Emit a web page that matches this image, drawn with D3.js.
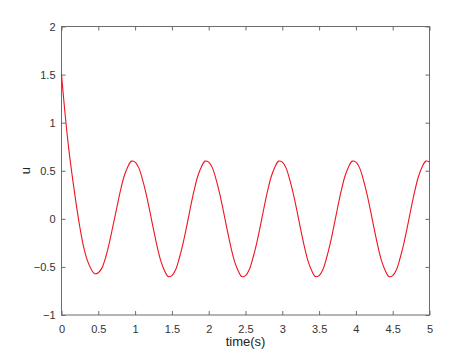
<!DOCTYPE html>
<html>
<head>
<meta charset="utf-8">
<script src="https://cdn.jsdelivr.net/npm/d3@7"></script>
<style>
  body { margin: 0; background: #fff; }
  svg { display: block; font-family: "Liberation Sans", Arial, sans-serif; }
</style>
</head>
<body>
<svg></svg>
<script>
const width = 474;
const height = 355;
const margin = { top: 26.5, right: 44.5, bottom: 40, left: 61.5 };

// time (s) and response u, every 0.05 s
const timeS = [
  0.00, 0.05, 0.10, 0.15, 0.20, 0.25, 0.30, 0.35, 0.40, 0.45,
  0.50, 0.55, 0.60, 0.65, 0.70, 0.75, 0.80, 0.85, 0.90, 0.95,
  1.00, 1.05, 1.10, 1.15, 1.20, 1.25, 1.30, 1.35, 1.40, 1.45,
  1.50, 1.55, 1.60, 1.65, 1.70, 1.75, 1.80, 1.85, 1.90, 1.95,
  2.00, 2.05, 2.10, 2.15, 2.20, 2.25, 2.30, 2.35, 2.40, 2.45,
  2.50, 2.55, 2.60, 2.65, 2.70, 2.75, 2.80, 2.85, 2.90, 2.95,
  3.00, 3.05, 3.10, 3.15, 3.20, 3.25, 3.30, 3.35, 3.40, 3.45,
  3.50, 3.55, 3.60, 3.65, 3.70, 3.75, 3.80, 3.85, 3.90, 3.95,
  4.00, 4.05, 4.10, 4.15, 4.20, 4.25, 4.30, 4.35, 4.40, 4.45,
  4.50, 4.55, 4.60, 4.65, 4.70, 4.75, 4.80, 4.85, 4.90, 4.95,
  5.00
];
const uValues = [
  1.50, 1.08, 0.72, 0.42, 0.15, -0.09, -0.29, -0.43, -0.52, -0.57,
  -0.56, -0.51, -0.40, -0.25, -0.07, 0.11, 0.29, 0.44, 0.54, 0.60,
  0.59, 0.53, 0.41, 0.26, 0.08, -0.11, -0.29, -0.44, -0.54, -0.60,
  -0.59, -0.53, -0.41, -0.26, -0.08, 0.11, 0.29, 0.44, 0.54, 0.60,
  0.59, 0.53, 0.41, 0.26, 0.08, -0.11, -0.29, -0.44, -0.54, -0.60,
  -0.59, -0.53, -0.41, -0.26, -0.08, 0.11, 0.29, 0.44, 0.54, 0.60,
  0.59, 0.53, 0.41, 0.26, 0.08, -0.11, -0.29, -0.44, -0.54, -0.60,
  -0.59, -0.53, -0.41, -0.26, -0.08, 0.11, 0.29, 0.44, 0.54, 0.60,
  0.59, 0.53, 0.41, 0.26, 0.08, -0.11, -0.29, -0.44, -0.54, -0.60,
  -0.59, -0.53, -0.41, -0.26, -0.08, 0.11, 0.29, 0.44, 0.54, 0.60,
  0.59
];

const xTicks = [0, 0.5, 1, 1.5, 2, 2.5, 3, 3.5, 4, 4.5, 5];
const yTicks = [-1, -0.5, 0, 0.5, 1, 1.5, 2];

const svg = d3.select("svg")
    .attr("width", width)
    .attr("height", height);

const x = d3.scaleLinear()
    .domain([0, 5])
    .range([margin.left, width - margin.right]);

const y = d3.scaleLinear()
    .domain([-1, 2])
    .range([height - margin.bottom, margin.top]);

const axisColor = "#6b6b6b";
const textColor = "#333";

function styleAxis(g) {
    g.select(".domain").remove();
    g.selectAll(".tick line").attr("stroke", axisColor);
    g.selectAll(".tick text").attr("fill", textColor).style("font-size", "11px");
}

svg.append("g")
    .attr("transform", `translate(0,${y(-1)})`)
    .call(d3.axisBottom(x).tickValues(xTicks).tickFormat(d3.format("")).tickSize(-4).tickPadding(10))
    .call(styleAxis);

svg.append("g")
    .attr("transform", `translate(0,${y(2)})`)
    .call(d3.axisTop(x).tickValues(xTicks).tickFormat("").tickSize(-4))
    .call(styleAxis);

svg.append("g")
    .attr("transform", `translate(${x(0)},0)`)
    .call(d3.axisLeft(y).tickValues(yTicks).tickFormat(d3.format("")).tickSize(-4).tickPadding(6))
    .call(styleAxis);

svg.append("g")
    .attr("transform", `translate(${x(5)},0)`)
    .call(d3.axisRight(y).tickValues(yTicks).tickFormat("").tickSize(-4))
    .call(styleAxis);

svg.append("rect")
    .attr("x", x(0))
    .attr("y", y(2))
    .attr("width", x(5) - x(0))
    .attr("height", y(-1) - y(2))
    .attr("fill", "none")
    .attr("stroke", axisColor);

const line = d3.line()
    .x((d, i) => x(timeS[i]))
    .y(d => y(d))
    .curve(d3.curveCatmullRom.alpha(0.5));

svg.append("path")
    .datum(uValues)
    .attr("fill", "none")
    .attr("stroke", "#f0141e")
    .attr("stroke-width", 1.1)
    .attr("d", line);

svg.append("text")
    .attr("x", (x(0) + x(5)) / 2)
    .attr("y", 346)
    .attr("text-anchor", "middle")
    .attr("fill", "#222")
    .style("font-size", "13px")
    .text("time(s)");

svg.append("text")
    .attr("transform", `translate(30,${(y(-1) + y(2)) / 2}) rotate(-90)`)
    .attr("text-anchor", "middle")
    .attr("fill", "#222")
    .style("font-size", "13px")
    .text("u");
</script>
</body>
</html>
